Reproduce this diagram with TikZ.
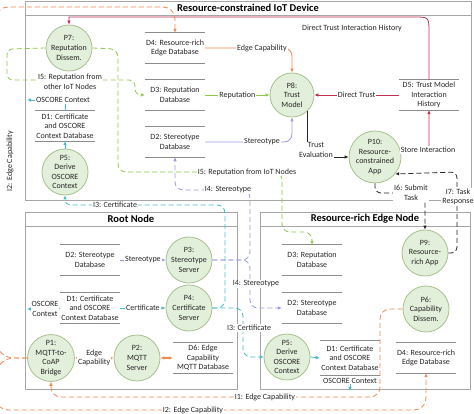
\documentclass[tikz,border=0pt]{standalone}
\usepackage{fontspec}
\setmainfont{Carlito}
\usetikzlibrary{arrows.meta}
\definecolor{framegray}{HTML}{A6A6A6}
\definecolor{dsgray}{HTML}{8C8C8C}
\definecolor{procfill}{HTML}{E2EFDA}
\definecolor{procdraw}{HTML}{A9C18F}
\definecolor{capOrange}{HTML}{F08A50}
\definecolor{repGreen}{HTML}{92C84E}
\definecolor{stereoLav}{HTML}{9C9CE6}
\definecolor{certCyan}{HTML}{45BCC6}
\definecolor{trustRed}{HTML}{C0304F}
\definecolor{inkgray}{HTML}{262626}
\tikzset{
    >={Latex[length=4pt,width=3.6pt]},
    process/.style = {circle, draw=procdraw, fill=procfill, line width=0.8pt, minimum size=46pt, inner sep=0pt, align=center, text=inkgray, font=\fontsize{8}{9.6}\selectfont},
    datastore/.style = {rectangle, minimum width=60pt, minimum height=30pt, inner sep=0pt, align=center, text=inkgray, font=\fontsize{8}{9.6}\selectfont},
    flowlabel/.style = {fill=white, inner sep=1pt, align=center, text=inkgray, font=\fontsize{8}{9.6}\selectfont},
    boxframe/.style = {draw=framegray, line width=0.8pt},
    boxtitle/.style = {text=black, font=\fontsize{10.5}{12}\selectfont\bfseries},
    flow/.style = {->, line width=0.8pt},
    iflow/.style = {flow, dash pattern=on 5pt off 3pt},
}

\begin{document}
\begin{tikzpicture}[x=1pt, y=-1pt]
\useasboundingbox (0,0) rectangle (474,414);
\clip (0,0) rectangle (474,414);
\fill[white] (0,0) rectangle (474,414);

% frames
\draw[boxframe] (25,1) rectangle (471,200);
\draw[boxframe] (25,15) -- (471,15);
\draw[boxframe] (25,212) rectangle (237,389);
\draw[boxframe] (25,226) -- (237,226);
\draw[boxframe] (260,212) rectangle (470,389);
\draw[boxframe] (260,226) -- (470,226);
\node[boxtitle] (tIoT) at (248,8) {Resource-constrained IoT Device};
\node[boxtitle] (tRoot) at (131,219) {Root Node};
\node[boxtitle] (tEdge) at (365,219) {Resource-rich Edge Node};

% IoT device
\node[process] (P7) at (69,48) {P7:\\Reputation\\Dissem.};
\node[datastore] (D4i) at (175,48) {D4: Resource-rich\\Edge Database};
\node[datastore] (D3i) at (175,95) {D3: Reputation\\Database};
\node[datastore] (D2i) at (175,142) {D2: Stereotype\\Database};
\node[datastore] (D1i) at (65,126) {D1: Certificate\\and OSCORE\\Context Database};
\node[process] (P5i) at (65,172) {P5:\\Derive\\OSCORE\\Context};
\node[process, minimum size=44pt] (P8) at (292,95) {P8:\\Trust\\Model};
\node[datastore] (D5) at (429,95) {D5: Trust Model\\Interaction\\History};
\node[process] (P10) at (375,157) {P10:\\Resource-\\constrained\\App};

% root node
\node[datastore] (D2r) at (90,260) {D2: Stereotype\\Database};
\node[datastore] (D1r) at (90,308) {D1: Certificate\\and OSCORE\\Context Database};
\node[process] (P3) at (189,260) {P3:\\Stereotype\\Server};
\node[process] (P4) at (189,308) {P4:\\Certificate\\Server};
\node[process] (P1) at (51,358) {P1:\\MQTT-to-\\CoAP\\Bridge};
\node[process] (P2) at (137,358) {P2:\\MQTT\\Server};
\node[datastore] (D6) at (203,358) {D6: Edge\\Capability\\MQTT Database};

% edge node
\node[datastore] (D3e) at (312,260) {D3: Reputation\\Database};
\node[datastore] (D2e) at (312,308) {D2: Stereotype\\Database};
\node[process] (P9) at (425,253) {P9:\\Resource-\\rich App};
\node[process] (P6) at (426,309) {P6:\\Capability\\Dissem.};
\node[process] (P5e) at (287,357) {P5:\\Derive\\OSCORE\\Context};
\node[datastore, minimum height=34pt] (D1e) at (350,358) {D1: Certificate\\and OSCORE\\Context Database};
\node[datastore] (D4e) at (426,358) {D4: Resource-rich\\Edge Database};

\foreach \ds in {D4i,D3i,D2i,D1i,D5,D2r,D1r,D6,D3e,D2e,D1e,D4e}
    \draw[dsgray, line width=0.8pt] (\ds.north west) -- (\ds.north east) (\ds.south west) -- (\ds.south east);

\node[flowlabel] (oscI) at (63,100) {OSCORE Context};
\node[flowlabel] (oscR) at (45,309) {OSCORE\\Context};
\node[flowlabel, fill=none, inner sep=0.5pt] (oscE) at (350,381) {OSCORE Context};
\coordinate (oscIout) at (27,100);
\coordinate (oscRout) at (27,309);
\coordinate (oscEout) at (350,391);

% flows inside the IoT device
\draw[flow, capOrange, rounded corners=8] (D4i.east) -- (292,48) -- (P8.north);
\draw[flow, repGreen] (D3i.east) -- node[flowlabel] (lRep) {Reputation} (P8.west);
\draw[flow, stereoLav, rounded corners=8] (D2i.east) -- (292,142) -- (P8.south);
\draw[flow, trustRed] (D5.west) -- node[flowlabel] (lDT) {Direct Trust} (P8.east);
\draw[flow, inkgray] (P8.-45) |- (P10.west);
\draw[flow, trustRed, rounded corners=6] (P10.10) -- (429,153) -- (D5.south);
\draw[flow, trustRed] (D5.north) -- (429,32) .. controls (429,17) .. (414,17) -- (69,17) -- (P7.north);
\draw[flow, certCyan] (P5i.north) -- (D1i.south);
\draw[certCyan, line width=0.8pt] (D1i.north) -- (D1i.north |- oscI.south);
\draw[flow, certCyan] (oscI.west) -- (oscIout);
\draw[iflow, inkgray, rounded corners=6] (P10.south) -- (375,193) -- (425,193) -- (P9.north);
\draw[iflow, inkgray, rounded corners=6] (P9.east) -- (457,253) -- (457,172) -- (P10.-40);

% flows inside the root node
\draw[flow, stereoLav] (D2r.east) -- node[flowlabel] (lSr) {Stereotype} (P3.west);
\draw[flow, certCyan] (D1r.east) -- node[flowlabel] (lCr) {Certificate} (P4.west);
\draw[certCyan, line width=0.8pt] (D1r.west) -- (oscR.east);
\draw[flow, certCyan] (oscR.west) -- (oscRout);
\draw[flow, <->, capOrange] (P1.east) -- node[flowlabel] (lEC) {Edge\\Capability} (P2.west);
\draw[flow, <->, capOrange, line width=1.6pt] (P2.east) -- (D6.west);

% flows inside the edge node
\draw[flow, certCyan] (P5e.east) -- (D1e.west);
\draw[flow, certCyan] (oscE.south) -- (oscEout);

% interfaces between nodes
\draw[iflow, certCyan, rounded corners=8] (P4.east) -- (225,308) -- (225,205) -- (90,205) [rounded corners=5] -- (65,205) -- (P5i.south);
\draw[iflow, certCyan, rounded corners=8] (P4.east) -- (243,308) -- (243,357) -- (P5e.west);
\draw[iflow, stereoLav, rounded corners=8] (P3.east) -- (250,260) -- (250,190) -- (175,190) -- (D2i.south);
\draw[iflow, stereoLav, rounded corners=8] (P3.east) -- (250,260) -- (250,308) -- (D2e.west);
\draw[iflow, repGreen, rounded corners=6] (P7.west) -- (7,49) -- (7,80) -- (135,80) -- (135,95) -- (D3i.west);
\draw[iflow, repGreen, rounded corners=8] (P7.east) -- (118,49) -- (118,172) -- (282,172) -- (282,232) -- (312,232) -- (D3e.north);
\draw[iflow, capOrange, rounded corners=10] (P6.west) -- (380,309) -- (380,397) -- (51,397) -- (P1.south);
\draw[iflow, capOrange] (P1.west) -- (14,358) .. controls (6,358) and (-4,352) .. (-4,340) [rounded corners=12] -- (-4,7) -- (175,7) -- (D4i.north);
\draw[iflow, capOrange] (P1.west) -- (14,358) .. controls (6,358) and (-4,364) .. (-4,376) [rounded corners=12] -- (-4,410) -- (426,410) -- (D4e.south);

% labels on the flows
\node[flowlabel] (lCap) at (262,48) {Edge Capability};
\node[flowlabel] (lSt) at (262,142) {Stereotype};
\node[flowlabel] (lTE) at (316,150) {Trust\\Evaluation};
\node[flowlabel] (lSI) at (428,150) {Store Interaction};
\node[flowlabel, fill=none] (lDTIH) at (352,28) {Direct Trust Interaction History};
\node[flowlabel] (lI6) at (411,193) {I6: Submit\\Task};
\node[flowlabel] (lI7) at (458,197) {I7: Task\\Response};
\node[flowlabel] (lI3a) at (115,205) {I3: Certificate};
\node[flowlabel] (lI3b) at (249,328) {I3: Certificate};
\node[flowlabel] (lI4a) at (228,190) {I4: Stereotype};
\node[flowlabel] (lI4b) at (256,284) {I4: Stereotype};
\node[flowlabel] (lI5a) at (70,82) {I5: Reputation from\\other IoT Nodes};
\node[flowlabel] (lI5b) at (247,172) {I5: Reputation from IoT Nodes};
\node[flowlabel] (lI1) at (265,397) {I1: Edge Capability};
\node[flowlabel] (lI2b) at (193,410) {I2: Edge Capability};
\node[flowlabel, fill=none, rotate=90] (lI2a) at (10,161) {I2: Edge Capability};
\end{tikzpicture}
\end{document}
